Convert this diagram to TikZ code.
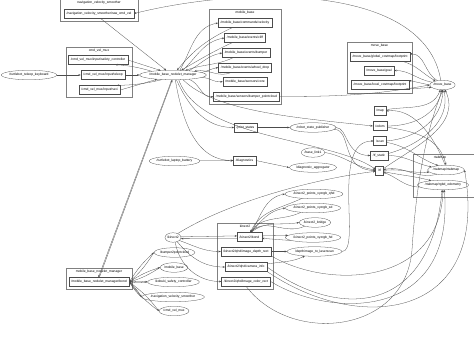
\documentclass[tikz,border=0pt]{standalone}
\usepackage{fontspec}
\setsansfont{Liberation Sans}
\usetikzlibrary{shapes.geometric,arrows.meta}

\tikzset{
  rosfont/.style={font=\sffamily\fontsize{3.3}{3.8}\selectfont},
  topic/.style={rosfont, draw=black!70, line width=0.28pt, rectangle, minimum height=9pt, inner xsep=2.5pt, inner ysep=0.5pt},
  rosnode/.style={rosfont, draw=black!70, line width=0.28pt, ellipse, minimum height=9.5pt, inner xsep=0pt, inner ysep=0.5pt},
  cluster/.style={draw=black!50, line width=0.45pt, rectangle, inner sep=0pt},
  cluslabel/.style={rosfont, inner sep=0pt},
  edge/.style={draw=black!70, line width=0.28pt, -{Stealth[length=2.4pt,width=1.8pt]}}
}

\begin{document}
\begin{tikzpicture}[x=1pt, y=-1pt]
  \fill[white] (0,0) rectangle (474,342);
  \useasboundingbox (0,0) rectangle (474,342);

  % clusters
  \node[cluster, minimum width=78pt, minimum height=23pt] (nvs_cl) at (99,9.5) {};
  \node[cluslabel] at (99,3) {navigation\_velocity\_smoother};
  \node[cluster, minimum width=66pt, minimum height=50pt] (cvm_cl) at (99,72) {};
  \node[cluslabel] at (99,50.5) {cmd\_vel\_mux};
  \node[cluster, minimum width=72pt, minimum height=95pt] (mb_cl) at (245,56.5) {};
  \node[cluslabel] at (245,12.5) {mobile\_base};
  \node[cluster, minimum width=65pt, minimum height=51pt] (mvb_cl) at (379.5,67.5) {};
  \node[cluslabel] at (379.5,45.5) {move\_base};
  \node[cluster, minimum width=87pt, minimum height=43pt] (rtab_cl) at (456.5,175.5) {};
  \node[cluslabel] at (440,158) {rtabmap};
  \node[cluster, minimum width=56pt, minimum height=66pt] (kin_cl) at (245,256) {};
  \node[cluslabel] at (245,226.5) {kinect2};
  \node[cluster, minimum width=66pt, minimum height=21pt] (mbnm_cl) at (99,278.5) {};
  \node[cluslabel] at (99,271.5) {mobile\_base\_nodelet\_manager};

  % topics
  \node[topic] (nvs_raw) at (99,13.5) {/navigation\_velocity\_smoother/raw\_cmd\_vel};
  \node[topic] (cvm_safety) at (98,60) {/cmd\_vel\_mux/input/safety\_controller};
  \node[topic] (cvm_teleop) at (103,75) {/cmd\_vel\_mux/input/teleop};
  \node[topic] (cvm_navi) at (99.5,90) {/cmd\_vel\_mux/input/navi};
  \node[topic] (mb_vel) at (245,23) {/mobile\_base/commands/velocity};
  \node[topic] (mb_cliff) at (245,38) {/mobile\_base/events/cliff};
  \node[topic] (mb_bumper) at (246,53) {/mobile\_base/events/bumper};
  \node[topic] (mb_wheel) at (245,67.5) {/mobile\_base/events/wheel\_drop};
  \node[topic] (mb_core) at (245,81.5) {/mobile\_base/sensors/core};
  \node[topic] (mb_bpc) at (246.5,96.5) {/mobile\_base/sensors/bumper\_pointcloud};
  \node[topic] (mvb_global) at (380,56.5) {/move\_base/global\_costmap/footprint};
  \node[topic] (mvb_goal) at (379,70.5) {/move\_base/goal};
  \node[topic] (mvb_local) at (380,84.5) {/move\_base/local\_costmap/footprint};
  \node[topic] (map) at (380,111) {/map};
  \node[topic] (odom) at (380,126) {/odom};
  \node[topic] (scan) at (380,141) {/scan};
  \node[topic] (tfstatic) at (379,155.5) {/tf\_static};
  \node[topic] (tf) at (379.5,170.5) {/tf};
  \node[topic] (jointstates) at (245.5,127.5) {/joint\_states};
  \node[topic] (diag) at (244.5,160.5) {/diagnostics};
  \node[topic] (k_bond) at (249.5,237) {/kinect2/bond};
  \node[topic] (k_depth) at (246,251.5) {/kinect2/qhd/image\_depth\_rect};
  \node[topic] (k_caminfo) at (246,267) {/kinect2/qhd/camera\_info};
  \node[topic] (k_color) at (246,281.5) {/kinect2/qhd/image\_color\_rect};
  \node[topic] (bond) at (99,282) {/mobile\_base\_nodelet\_manager/bond};

  % nodes
  \node[rosnode] (teleop_kb) at (29,75) {/turtlebot\_teleop\_keyboard};
  \node[rosnode] (mbnm) at (173,75) {/mobile\_base\_nodelet\_manager};
  \node[rosnode] (movebase) at (442.5,85) {/move\_base};
  \node[rosnode] (rtab) at (446,170) {/rtabmap/rtabmap};
  \node[rosnode] (rgbdodom) at (443,185) {/rtabmap/rgbd\_odometry};
  \node[rosnode] (rsp) at (313,127.5) {/robot\_state\_publisher};
  \node[rosnode] (baselink) at (313,152.5) {/base\_link1};
  \node[rosnode] (diagagg) at (313,167.5) {/diagnostic\_aggregator};
  \node[rosnode] (battery) at (174.5,161) {/turtlebot\_laptop\_battery};
  \node[rosnode] (kinect) at (173,237.5) {/kinect2};
  \node[rosnode] (k_qhd) at (314,194) {/kinect2\_points\_xyzrgb\_qhd};
  \node[rosnode] (k_sd) at (313,208) {/kinect2\_points\_xyzrgb\_sd};
  \node[rosnode] (k_bridge) at (315,222.5) {/kinect2\_bridge};
  \node[rosnode] (k_hd) at (313,237.5) {/kinect2\_points\_xyzrgb\_hd};
  \node[rosnode] (d2l) at (314.5,251.5) {/depthimage\_to\_laserscan};
  \node[rosnode] (b2pc) at (174.5,252.5) {/bumper2pointcloud};
  \node[rosnode] (mobilebase) at (174,267.5) {/mobile\_base};
  \node[rosnode] (kobuki_sc) at (173.5,282) {/kobuki\_safety\_controller};
  \node[rosnode] (nvsmoother) at (173,297) {/navigation\_velocity\_smoother};
  \node[rosnode] (cmdvelmux) at (174,311) {/cmd\_vel\_mux};

  % velocity inputs
  \draw[edge] (teleop_kb) -- (cvm_teleop);
  \draw[edge] (cvm_teleop) -- (mbnm);
  \draw[edge] (cvm_safety.east) -- (mbnm.160);
  \draw[edge] (mbnm.170) to[bend right=6] (cvm_safety.-15);
  \draw[edge] (cvm_navi.east) -- (mbnm.195);
  \draw[edge] (mbnm.203) to[bend left=6] (cvm_navi.15);
  \draw[edge] (nvs_raw.285) -- (mbnm.145);
  \draw[edge] (movebase.110) .. controls (425,-15) and (250,-15) .. (nvs_raw.east);

  % mobile_base topics
  \foreach \t/\a/\o in {mb_vel/35/60, mb_cliff/25/45, mb_bumper/15/30, mb_wheel/5/15, mb_core/-5/0, mb_bpc/-15/-20}
    \draw[edge] (mbnm.\a) to[out=\o, in=190] (\t.west);
  \foreach \t/\a in {mb_vel/50, mb_cliff/30, mb_bumper/20, mb_wheel/10}
    \draw[edge] (\t.200) to[out=205, in=\a] (mbnm.\a);
  \draw[edge] (mb_bpc.east) to[out=0, in=190] (movebase.west);

  % move_base topics
  \draw[edge] (movebase.140) to[out=150, in=0] (mvb_global.5);
  \draw[edge] (mvb_global.-12) to[out=-15, in=150] (movebase.150);
  \draw[edge] (movebase.165) to[out=170, in=0] (mvb_goal.east);
  \draw[edge] (movebase.180) -- (mvb_local.8);
  \draw[edge] (mvb_local.-10) -- (movebase.192);

  % map, odom, scan, tf
  \draw[edge] (rtab.100) .. controls (432,132) and (412,108) .. (map.east);
  \draw[edge] (map.12) to[out=10, in=250] (movebase.245);
  \draw[edge] (mbnm.-25) .. controls (215,112) and (300,118) .. (odom.west);
  \draw[edge] (odom.east) to[out=0, in=260] (movebase.258);
  \draw[edge] (odom.-10) .. controls (420,132) and (440,140) .. (rtab.north);
  \draw[edge] (d2l.east) .. controls (362,252) and (330,141) .. (scan.west);
  \draw[edge] (scan.east) to[out=5, in=270] (movebase.272);
  \draw[edge] (scan.-12) to[out=-10, in=160] (rtab.150);
  \draw[edge] (rsp.east) .. controls (348,128) and (345,155) .. (tfstatic.west);
  \draw[edge] (rsp.-5) .. controls (352,130) and (340,170) .. (tf.west);
  \draw[edge] (tfstatic.east) to[out=0, in=168] (rtab.168);
  \draw[edge] (tfstatic.12) to[out=15, in=283] (movebase.285);
  \draw[edge] (tf.east) to[out=8, in=185] (rtab.187);
  \draw[edge] (tf.-15) to[out=-12, in=165] (rgbdodom.160);
  \draw[edge] (rtab.205) to[out=195, in=12] (tf.12);
  \draw[edge] (rgbdodom.185) to[out=180, in=-20] (tf.-25);
  \draw[edge] (tf.25) to[out=35, in=295] (movebase.298);
  \draw[edge] (baselink.east) to[out=-10, in=172] (tf.172);
  \draw[edge] (kinect.40) .. controls (232,200) and (320,178) .. (tf.192);
  \draw[edge] (mbnm.-40) .. controls (200,140) and (330,138) .. (tf.162);

  % robot state and diagnostics
  \draw[edge] (mbnm.-55) to[out=-65, in=180] (jointstates.west);
  \draw[edge] (jointstates) -- (rsp);
  \draw[edge] (mbnm.-65) to[out=-80, in=180] (diag.west);
  \draw[edge] (battery) -- (diag);
  \draw[edge] (diag.east) -- (diagagg.west);

  % kinect2
  \draw[edge] (kinect.5) -- (k_bond.175);
  \draw[edge] (k_bond.188) -- (kinect.-8);
  \draw[edge] (kinect.-25) to[out=-20, in=180] (k_depth.west);
  \draw[edge] (kinect.-45) to[out=-50, in=180] (k_caminfo.west);
  \draw[edge] (kinect.-65) to[out=-80, in=180] (k_color.west);
  \foreach \p/\o in {k_qhd/60, k_sd/50, k_bridge/40}
    \draw[edge] (k_bond.70) to[out=\o, in=190] (\p.west);
  \foreach \p/\i in {k_qhd/65, k_sd/55, k_bridge/45}
    \draw[edge] (\p.200) to[out=205, in=\i] (k_bond.80);
  \draw[edge] (k_bond.5) -- (k_hd.175);
  \draw[edge] (k_hd.188) -- (k_bond.-6);
  \draw[edge] (k_depth.east) -- (d2l.west);
  \draw[edge] (k_caminfo.8) to[out=10, in=205] (d2l.205);
  \draw[edge] (k_depth.-10) .. controls (330,290) and (440,285) .. (rgbdodom.south);
  \draw[edge] (k_caminfo.east) .. controls (340,320) and (430,315) .. (rgbdodom.-100);
  \draw[edge] (k_caminfo.-12) .. controls (360,335) and (490,320) .. (rtab.east);
  \draw[edge] (k_color.east) .. controls (330,318) and (455,322) .. (rgbdodom.-75);
  \draw[edge] (k_color.south) .. controls (290,345) and (405,335) .. (412,250) .. controls (417,170) and (430,120) .. (movebase.-85);

  % nodelet bond
  \draw[edge] (mbnm.-105) -- (bond.97);
  \draw[edge] (bond.85) -- (mbnm.-98);
  \foreach \n in {b2pc, mobilebase, kobuki_sc, nvsmoother, cmdvelmux} {
    \draw[edge] (bond.east) to[bend left=8] (\n.west);
    \draw[edge] (\n.west) to[bend left=8] (bond.east);
  }
\end{tikzpicture}
\end{document}
